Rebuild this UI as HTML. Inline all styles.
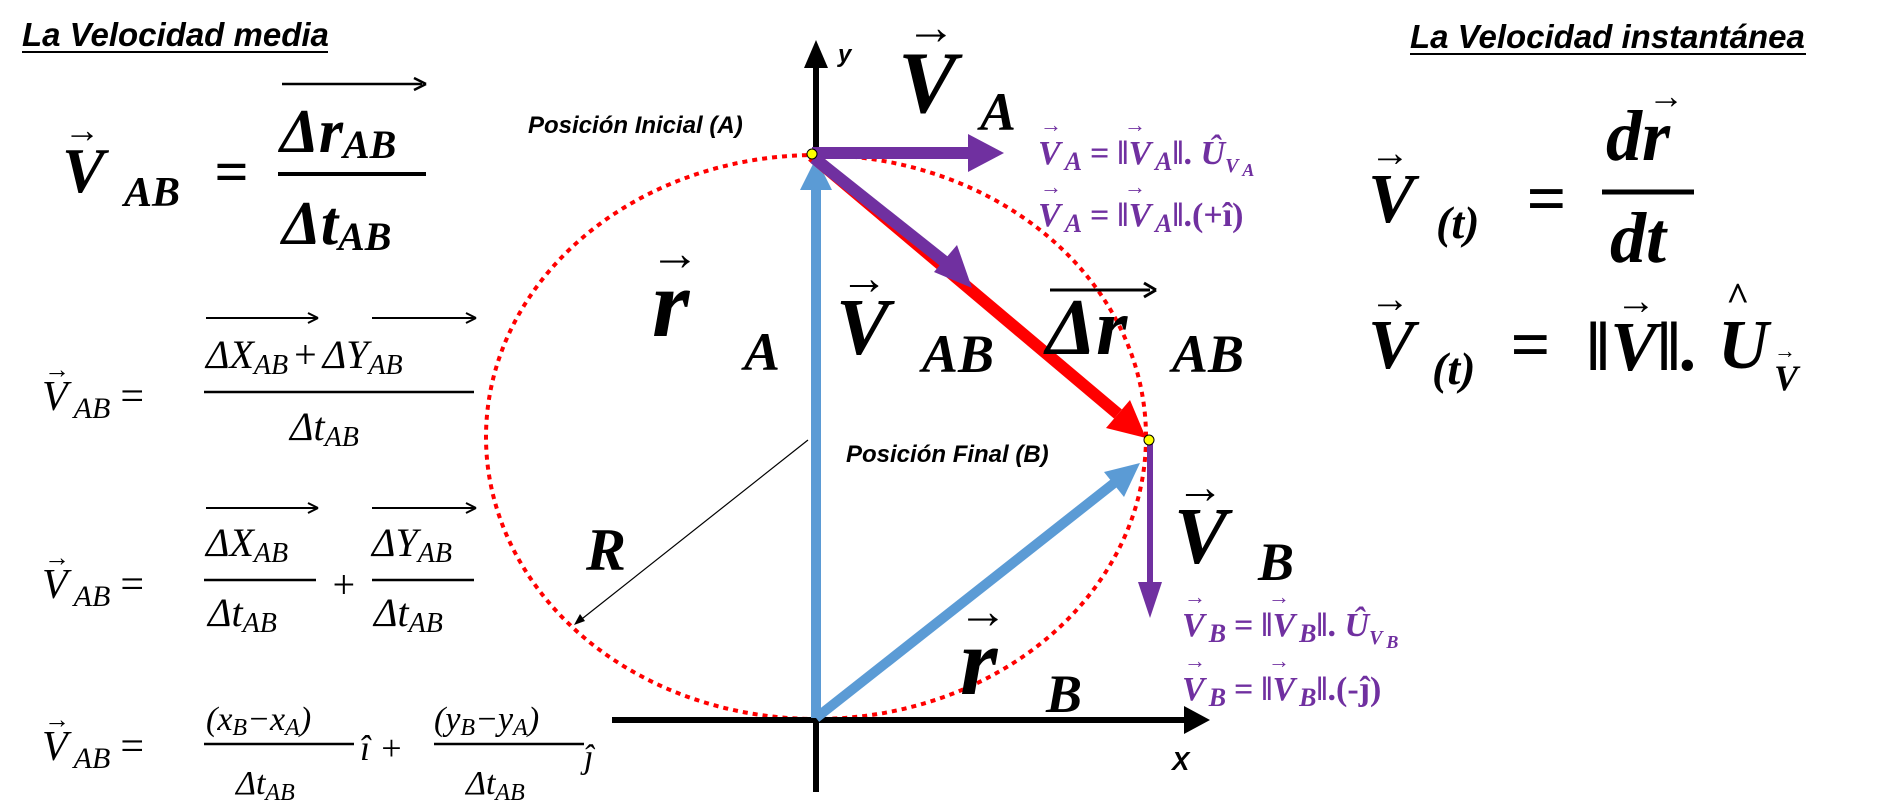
<!DOCTYPE html>
<html><head><meta charset="utf-8"><style>
html,body{margin:0;padding:0;background:#fff;}
svg{display:block;}
.m{font-family:"Liberation Serif",serif;font-style:italic;font-weight:bold;fill:#000;}
.r{font-family:"Liberation Serif",serif;font-style:italic;fill:#000;}
.s{font-family:"Liberation Sans",sans-serif;font-style:italic;font-weight:bold;fill:#000;}
.p{font-family:"Liberation Serif",serif;font-style:italic;font-weight:bold;fill:#7030a0;}
</style></head><body>
<svg width="1887" height="812" viewBox="0 0 1887 812" xmlns="http://www.w3.org/2000/svg">
<!-- titles -->
<text class="s" x="22" y="46" font-size="33">La Velocidad media</text>
<line x1="22" y1="52" x2="328" y2="52" stroke="#000" stroke-width="2"/>
<text class="s" x="1410" y="48" font-size="33">La Velocidad instantánea</text>
<line x1="1410" y1="54" x2="1806" y2="54" stroke="#000" stroke-width="2"/>

<!-- ellipse -->
<ellipse cx="816" cy="437" rx="330" ry="282" fill="none" stroke="#f00" stroke-width="4" stroke-dasharray="5,5"/>

<!-- axes -->
<line x1="816" y1="792" x2="816" y2="60" stroke="#000" stroke-width="6"/>
<path d="M816,40 L804,68 L828,68z" fill="#000"/>
<line x1="612" y1="720" x2="1190" y2="720" stroke="#000" stroke-width="6"/>
<path d="M1210,720 L1184,706 L1184,734z" fill="#000"/>
<text class="s" x="838" y="62" font-size="24" font-style="normal">y</text>
<text class="s" x="1172" y="770" font-size="26" font-style="normal">X</text>

<!-- R line -->
<line x1="808" y1="440" x2="578" y2="622" stroke="#000" stroke-width="1.2"/>
<path d="M574,625 L580,614 L585,621z" fill="#000"/>

<!-- blue vectors -->
<line x1="816" y1="718" x2="816" y2="185" stroke="#5b9bd5" stroke-width="10"/>
<path d="M816,158 L800,190 L832,190z" fill="#5b9bd5"/>
<line x1="816" y1="718" x2="1118" y2="480" stroke="#5b9bd5" stroke-width="10"/>
<path d="M1140,463 L1104,472 L1124,497z" fill="#5b9bd5"/>

<!-- red -->
<line x1="812" y1="156" x2="1118" y2="414" stroke="#f00" stroke-width="12"/>
<path d="M1146,438 L1130,400 L1106,428z" fill="#f00"/>

<!-- purple -->
<line x1="812" y1="153" x2="970" y2="153" stroke="#7030a0" stroke-width="12"/>
<path d="M1004,153 L968,134 L968,172z" fill="#7030a0"/>
<line x1="814" y1="158" x2="950" y2="266" stroke="#7030a0" stroke-width="12"/>
<path d="M972,288 L957,245 L934,272z" fill="#7030a0"/>
<line x1="1150" y1="442" x2="1150" y2="585" stroke="#7030a0" stroke-width="6"/>
<path d="M1150,618 L1138,582 L1162,582z" fill="#7030a0"/>

<!-- points -->
<circle cx="812" cy="154" r="5" fill="#ff0" stroke="#000" stroke-width="1"/>
<circle cx="1149" cy="440" r="5" fill="#ff0" stroke="#000" stroke-width="1"/>

<!-- diagram labels -->
<text class="s" x="528" y="133" font-size="24">Posición Inicial (A)</text>
<text class="s" x="846" y="462" font-size="24">Posición Final (B)</text>
<text class="m" x="586" y="570" font-size="60">R</text>

<text class="m" x="898" y="112" font-size="88">V</text>
<text class="m" x="906" y="44" font-size="50">→</text>
<text class="m" x="980" y="130" font-size="54">A</text>

<text class="m" x="652" y="336" font-size="96">r</text>
<text class="m" x="650" y="270" font-size="50">→</text>
<text class="m" x="744" y="370" font-size="54">A</text>

<text class="m" x="836" y="354" font-size="80">V</text>
<text class="m" x="840" y="294" font-size="48">→</text>
<text class="m" x="922" y="372" font-size="54">AB</text>

<text class="m" x="1046" y="354" font-size="80">Δr</text>
<line x1="1050" y1="290" x2="1150" y2="290" stroke="#000" stroke-width="3"/>
<path d="M1156,290 L1144,283 M1156,290 L1144,297" stroke="#000" stroke-width="3"/>
<text class="m" x="1172" y="372" font-size="54">AB</text>

<text class="m" x="1174" y="563" font-size="80">V</text>
<text class="m" x="1176" y="503" font-size="48">→</text>
<text class="m" x="1258" y="580" font-size="54">B</text>

<text class="m" x="960" y="694" font-size="96">r</text>
<text class="m" x="958" y="628" font-size="50">→</text>
<text class="m" x="1046" y="712" font-size="54">B</text>

<!-- purple formulas -->
<g class="p">
<text class="p" x="1038" y="164" font-size="34">V<tspan font-size="26" dx="4" dy="6">A</tspan><tspan dx="8" dy="-6" font-style="normal">=</tspan><tspan dx="8" font-style="normal">‖</tspan><tspan>V</tspan><tspan font-size="26" dx="4" dy="6">A</tspan><tspan dy="-6" font-style="normal">‖. </tspan><tspan>Û</tspan><tspan font-size="20" dy="8">V</tspan><tspan font-size="18" dx="4" dy="4">A</tspan></text>
<text class="p" x="1040" y="132" font-size="22">→</text>
<text class="p" x="1124" y="132" font-size="22">→</text>
<text class="p" x="1038" y="226" font-size="34">V<tspan font-size="26" dx="4" dy="6">A</tspan><tspan dx="8" dy="-6" font-style="normal">=</tspan><tspan dx="8" font-style="normal">‖</tspan><tspan>V</tspan><tspan font-size="26" dx="4" dy="6">A</tspan><tspan dy="-6" font-style="normal">‖.(+î)</tspan></text>
<text class="p" x="1040" y="194" font-size="22">→</text>
<text class="p" x="1124" y="194" font-size="22">→</text>
<text class="p" x="1182" y="636" font-size="34">V<tspan font-size="26" dx="4" dy="6">B</tspan><tspan dx="8" dy="-6" font-style="normal">=</tspan><tspan dx="8" font-style="normal">‖</tspan><tspan>V</tspan><tspan font-size="26" dx="4" dy="6">B</tspan><tspan dy="-6" font-style="normal">‖. </tspan><tspan>Û</tspan><tspan font-size="20" dy="8">V</tspan><tspan font-size="18" dx="4" dy="4">B</tspan></text>
<text class="p" x="1184" y="604" font-size="22">→</text>
<text class="p" x="1268" y="604" font-size="22">→</text>
<text class="p" x="1182" y="700" font-size="34">V<tspan font-size="26" dx="4" dy="6">B</tspan><tspan dx="8" dy="-6" font-style="normal">=</tspan><tspan dx="8" font-style="normal">‖</tspan><tspan>V</tspan><tspan font-size="26" dx="4" dy="6">B</tspan><tspan dy="-6" font-style="normal">‖.(-ĵ)</tspan></text>
<text class="p" x="1184" y="668" font-size="22">→</text>
<text class="p" x="1268" y="668" font-size="22">→</text>
</g>

<!-- left formula 1 -->
<text class="m" x="62" y="192" font-size="64">V</text>
<text class="m" x="64" y="142" font-size="36">→</text>
<text class="m" x="124" y="206" font-size="42">AB</text>
<text class="m" x="214" y="192" font-size="60">=</text>
<line x1="278" y1="174" x2="426" y2="174" stroke="#000" stroke-width="4"/>
<text class="m" x="280" y="152" font-size="62">Δr<tspan font-size="40" dy="6">AB</tspan></text>
<line x1="282" y1="84" x2="422" y2="84" stroke="#000" stroke-width="2.5"/>
<path d="M426,84 L414,78 M426,84 L414,90" stroke="#000" stroke-width="2.5"/>
<text class="m" x="282" y="244" font-size="62">Δt<tspan font-size="40" dy="6">AB</tspan></text>

<!-- left formula 2 -->
<text class="r" x="42" y="410" font-size="42">V<tspan font-size="30" dx="6" dy="8">AB</tspan><tspan dx="10" dy="-8" font-style="normal">=</tspan></text>
<text class="r" x="44" y="378" font-size="26">→</text>
<line x1="204" y1="392" x2="474" y2="392" stroke="#000" stroke-width="2.5"/>
<text class="r" x="206" y="368" font-size="40">ΔX<tspan font-size="28" dy="6">AB</tspan><tspan dx="6" dy="-6" font-style="normal">+</tspan><tspan dx="6">ΔY</tspan><tspan font-size="28" dy="6">AB</tspan></text>
<line x1="206" y1="318" x2="316" y2="318" stroke="#000" stroke-width="2"/>
<path d="M318,318 L308,313 M318,318 L308,323" stroke="#000" stroke-width="2"/>
<line x1="372" y1="318" x2="474" y2="318" stroke="#000" stroke-width="2"/>
<path d="M476,318 L466,313 M476,318 L466,323" stroke="#000" stroke-width="2"/>
<text class="r" x="290" y="440" font-size="40">Δt<tspan font-size="28" dy="6">AB</tspan></text>

<!-- left formula 3 -->
<text class="r" x="42" y="598" font-size="42">V<tspan font-size="30" dx="6" dy="8">AB</tspan><tspan dx="10" dy="-8" font-style="normal">=</tspan></text>
<text class="r" x="44" y="566" font-size="26">→</text>
<line x1="204" y1="580" x2="316" y2="580" stroke="#000" stroke-width="2.5"/>
<line x1="372" y1="580" x2="474" y2="580" stroke="#000" stroke-width="2.5"/>
<text class="r" x="330" y="598" font-size="40" font-style="normal">+</text>
<text class="r" x="206" y="556" font-size="40">ΔX<tspan font-size="28" dy="6">AB</tspan></text>
<text class="r" x="372" y="556" font-size="40">ΔY<tspan font-size="28" dy="6">AB</tspan></text>
<line x1="206" y1="508" x2="316" y2="508" stroke="#000" stroke-width="2"/>
<path d="M318,508 L308,503 M318,508 L308,513" stroke="#000" stroke-width="2"/>
<line x1="372" y1="508" x2="474" y2="508" stroke="#000" stroke-width="2"/>
<path d="M476,508 L466,503 M476,508 L466,513" stroke="#000" stroke-width="2"/>
<text class="r" x="208" y="626" font-size="40">Δt<tspan font-size="28" dy="6">AB</tspan></text>
<text class="r" x="374" y="626" font-size="40">Δt<tspan font-size="28" dy="6">AB</tspan></text>

<!-- left formula 4 -->
<text class="r" x="42" y="760" font-size="42">V<tspan font-size="30" dx="6" dy="8">AB</tspan><tspan dx="10" dy="-8" font-style="normal">=</tspan></text>
<text class="r" x="44" y="728" font-size="26">→</text>
<line x1="204" y1="744" x2="354" y2="744" stroke="#000" stroke-width="2.5"/>
<line x1="434" y1="744" x2="584" y2="744" stroke="#000" stroke-width="2.5"/>
<text class="r" x="206" y="730" font-size="34">(x<tspan font-size="24" dy="5">B</tspan><tspan dy="-5">−x</tspan><tspan font-size="24" dy="5">A</tspan><tspan dy="-5">)</tspan></text>
<text class="r" x="434" y="730" font-size="34">(y<tspan font-size="24" dy="5">B</tspan><tspan dy="-5">−y</tspan><tspan font-size="24" dy="5">A</tspan><tspan dy="-5">)</tspan></text>
<text class="r" x="360" y="760" font-size="36" font-style="normal">î +</text>
<text class="r" x="584" y="768" font-size="34" font-style="normal">ĵ</text>
<text class="r" x="236" y="794" font-size="34">Δt<tspan font-size="24" dy="6">AB</tspan></text>
<text class="r" x="466" y="794" font-size="34">Δt<tspan font-size="24" dy="6">AB</tspan></text>

<!-- right formulas -->
<text class="m" x="1368" y="222" font-size="70">V</text>
<text class="m" x="1370" y="166" font-size="40">→</text>
<text class="m" x="1436" y="238" font-size="46" font-style="normal">(<tspan font-style="italic">t</tspan>)</text>
<text class="m" x="1526" y="222" font-size="70">=</text>
<line x1="1602" y1="192" x2="1694" y2="192" stroke="#000" stroke-width="5"/>
<text class="m" x="1606" y="160" font-size="72">dr</text>
<text class="m" x="1648" y="108" font-size="36">→</text>
<text class="m" x="1610" y="262" font-size="72">dt</text>

<text class="m" x="1368" y="368" font-size="70">V</text>
<text class="m" x="1370" y="312" font-size="40">→</text>
<text class="m" x="1432" y="384" font-size="46" font-style="normal">(<tspan font-style="italic">t</tspan>)</text>
<text class="m" x="1510" y="368" font-size="70" font-style="normal">=</text>
<text class="m" x="1586" y="370" font-size="70" font-style="normal">‖<tspan font-style="italic">V</tspan>‖.</text>
<text class="m" x="1616" y="314" font-size="40">→</text>
<text class="m" x="1718" y="368" font-size="70">U</text>
<text class="m" x="1726" y="310" font-size="40" font-style="normal">^</text>
<text class="m" x="1774" y="390" font-size="36">V</text>
<text class="m" x="1774" y="358" font-size="22">→</text>
</svg>
</body></html>
